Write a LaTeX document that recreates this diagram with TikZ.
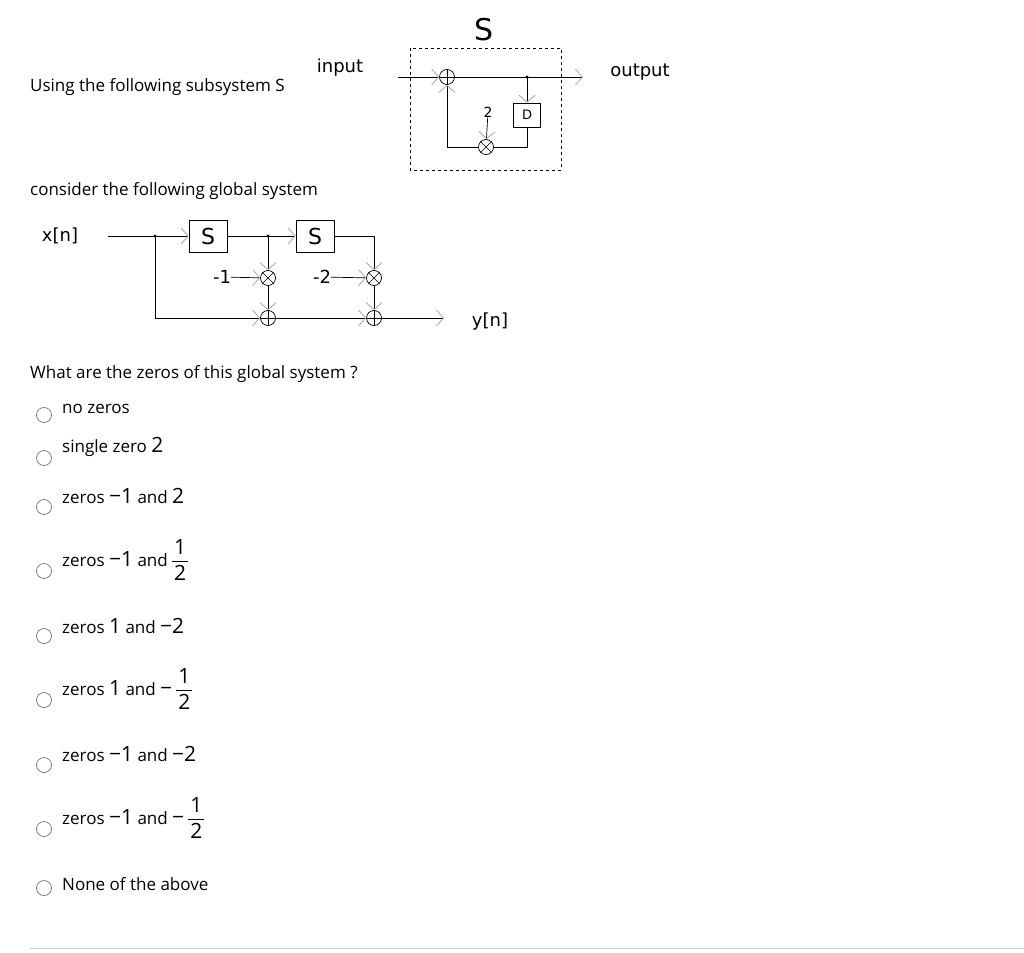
\documentclass[tikz,border=0pt]{standalone}
\usepackage{fix-cm}
\usepackage{amsmath}
\usepackage{fontspec}
\setmainfont{Open Sans}
\newfontfamily\hand{DejaVu Sans}[Scale=1]
\usetikzlibrary{arrows.meta}
\begin{document}
\begin{tikzpicture}[x=1pt,y=-1pt,
  every node/.style={inner sep=0pt},
  sig/.style={line width=0.7pt},
  arr/.style={sig,-{Straight Barb[length=7pt,width=16pt,color=gray!70,line width=0.8pt]}},
  blk/.style={draw,line width=0.7pt,minimum width=38pt,minimum height=32pt,font=\hand\fontsize{22}{24}\selectfont},
  dblk/.style={draw,line width=0.7pt,minimum width=27pt,minimum height=24pt,font=\hand\fontsize{13}{15}\selectfont},
  opp/.style={draw,circle,line width=0.7pt,minimum size=15pt},
  lab/.style={font=\hand\fontsize{18}{20}\selectfont},
  txt/.style={anchor=west,font=\fontsize{17}{20}\selectfont},
  radio/.style={draw=gray,circle,line width=0.8pt,minimum size=15pt}]
\useasboundingbox (0,0) rectangle (1024,952);
% ---- question header
\node[txt] (t1) at (30,87) {Using the following subsystem S};
\node[txt] (t2) at (30,191) {consider the following global system};
\node[txt] (t3) at (30,374) {What are the zeros of this global system ?};
% ---- subsystem S
\draw[dashed,line width=0.7pt] (410,48) rectangle (561,170);
\node[lab,font=\hand\fontsize{30}{32}\selectfont] (Slab) at (484,30) {S};
\node[lab] (in) at (340,68) {input};
\node[lab] (out) at (640,72) {output};
\coordinate (inl) at (398,77);
\node[opp] (ad) at (447,77) {};
\draw (ad.north)--(ad.south) (ad.west)--(ad.east);
\coordinate (tap) at (527,77);
\coordinate (oe) at (583,77);
\node[dblk] (D) at (527,115) {D};
\node[opp] (mu) at (486,147) {};
\draw (mu.north west)--(mu.south east) (mu.north east)--(mu.south west);
\node[font=\hand\fontsize{14}{16}\selectfont] (two) at (488,112) {2};
\draw[arr] (inl)--(ad);
\draw[arr] (ad)--(oe);
\fill (tap) circle (1.6pt);
\draw[arr] (tap)--(D);
\draw[sig] (D.south)|-(mu);
\draw[arr] (mu)-|(ad);
\draw[arr] (two)--(mu);
% ---- global system
\node[lab] (x) at (60,236) {x[n]};
\coordinate (xs) at (108,236);
\coordinate (br) at (155,236);
\node[blk] (S1) at (208,236) {S};
\node[blk] (S2) at (315,236) {S};
\coordinate (t2p) at (268,236);
\node[opp] (m1) at (268,278) {};
\node[opp] (m2) at (374,278) {};
\draw (m1.north west)--(m1.south east) (m1.north east)--(m1.south west);
\draw (m2.north west)--(m2.south east) (m2.north east)--(m2.south west);
\node[opp] (a1) at (268,318) {};
\node[opp] (a2) at (374,318) {};
\draw (a1.north)--(a1.south) (a1.west)--(a1.east);
\draw (a2.north)--(a2.south) (a2.west)--(a2.east);
\node[lab] (k1) at (222,277) {-1};
\node[lab] (k2) at (322,277) {-2};
\node[lab] (y) at (490,322) {y[n]};
\coordinate (ye) at (444,318);
\draw[arr] (xs)--(S1);
\fill (br) circle (1.6pt);
\draw[arr] (S1)--(S2);
\fill (t2p) circle (1.6pt);
\draw[arr] (S2.east)-|(m2);
\draw[arr] (t2p)--(m1);
\draw[arr] (k1)--(m1);
\draw[arr] (k2)--(m2);
\draw[arr] (m1)--(a1);
\draw[arr] (m2)--(a2);
\draw[arr] (br)|-(a1);
\draw[arr] (a1)--(a2);
\draw[arr] (a2)--(ye);
% ---- options
\newcommand\nm[1]{{\fontsize{21}{22}\selectfont #1}}
\newcommand\hf{\kern3pt$\genfrac{}{}{1pt}{0}{\hbox{\kern2pt\nm{1}\kern2pt}}{\hbox{\kern2pt\nm{2}\kern2pt}}$}
\node[radio] (r1) at (44,415) {}; \node[txt] (o1) at (62,409) {no zeros};
\node[radio] (r2) at (44,458) {}; \node[txt] (o2) at (62,447) {single zero \nm{2}};
\node[radio] (r3) at (44,507) {}; \node[txt] (o3) at (62,496) {zeros \nm{−1} and \nm{2}};
\node[radio] (r4) at (44,571) {}; \node[txt] (o4) at (62,560) {zeros \nm{−1} and\hf};
\node[radio] (r5) at (44,636) {}; \node[txt] (o5) at (62,626) {zeros \nm{1} and \nm{−2}};
\node[radio] (r6) at (44,700) {}; \node[txt] (o6) at (62,689) {zeros \nm{1} and \nm{−}\hf};
\node[radio] (r7) at (44,765) {}; \node[txt] (o7) at (62,754) {zeros \nm{−1} and \nm{−2}};
\node[radio] (r8) at (44,829) {}; \node[txt] (o8) at (62,818) {zeros \nm{−1} and \nm{−}\hf};
\node[radio] (r9) at (44,888) {}; \node[txt] (o9) at (62,884) {None of the above};
\draw[gray!40,line width=1pt] (30,948)--(1024,948);
\end{tikzpicture}
\end{document}
